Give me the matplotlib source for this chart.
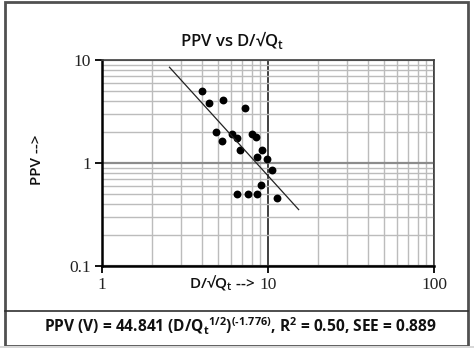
import matplotlib
matplotlib.use("Agg")
import matplotlib.pyplot as plt
from matplotlib.lines import Line2D
from matplotlib.patches import Rectangle
from matplotlib.ticker import LogLocator, NullFormatter, FixedLocator

plt.rcParams["mathtext.fontset"] = "custom"
plt.rcParams["mathtext.rm"] = "Open Sans"
plt.rcParams["mathtext.bf"] = "Open Sans:bold"

scaled_dist = [4.03, 4.44, 5.36, 7.30, 4.87, 5.29, 6.10, 6.48, 7.98, 8.44,
               6.81, 9.20, 8.62, 9.90, 10.6, 9.08, 6.48, 7.61, 8.62, 11.27]
ppv = [4.97, 3.86, 4.09, 3.42, 2.00, 1.65, 1.90, 1.76, 1.93, 1.78,
       1.33, 1.33, 1.14, 1.09, 0.85, 0.617, 0.50, 0.50, 0.50, 0.457]

# fitted trend PPV = K * x^B
fit_k = 44.841
fit_b = -1.776
fit_range = [2.55, 15.3]

W, H = 474, 348
fig = plt.figure(figsize=(W / 100, H / 100), dpi=100)
ax = fig.add_axes([102 / W, (H - 266) / H, (434 - 102) / W, (266 - 60) / H])

ax.set_xscale("log")
ax.set_yscale("log")
ax.set_xlim(1, 100)
ax.set_ylim(0.1, 10)

# grid: light minor lines, darker decade lines
ax.xaxis.set_minor_locator(LogLocator(base=10, subs=range(2, 10)))
ax.yaxis.set_minor_locator(LogLocator(base=10, subs=range(2, 10)))
ax.xaxis.set_minor_formatter(NullFormatter())
ax.yaxis.set_minor_formatter(NullFormatter())
ax.grid(which="minor", axis="both", color="#bcbcbc", lw=1.0)
ax.grid(which="major", axis="y", color="#8c8c8c", lw=1.6)
ax.grid(which="major", axis="x", color="#303030", lw=1.3)
ax.tick_params(which="minor", length=0)
ax.set_axisbelow(True)

ax.xaxis.set_major_locator(FixedLocator([1, 10, 100]))
ax.yaxis.set_major_locator(FixedLocator([0.1, 1, 10]))
ax.set_xticklabels(["1", "10", "100"])
ax.set_yticklabels(["0.1", "1", "10"])
ax.tick_params(which="major", length=5, width=1.3, color="black",
               labelsize=12.5, pad=3)
for lab in ax.get_xticklabels() + ax.get_yticklabels():
    lab.set_family("Liberation Serif")
    lab.set_color("#222222")

for side in ("left", "bottom"):
    ax.spines[side].set_linewidth(1.8)
    ax.spines[side].set_color("black")
for side in ("top", "right"):
    ax.spines[side].set_linewidth(1.2)
    ax.spines[side].set_color("#404040")

ax.scatter(scaled_dist, ppv, s=32, color="black", zorder=3, linewidths=0)

xs = [fit_range[0] * (fit_range[1] / fit_range[0]) ** (i / 50) for i in range(51)]
ax.plot(xs, [fit_k * x ** fit_b for x in xs], color="#222222", lw=0.9, zorder=3)

sans = ["Open Sans", "DejaVu Sans"]
fig.text(232 / W, 1 - 40 / H, r"PPV vs D/√Q$_\mathregular{t}$", family=sans,
         fontsize=12, fontweight="semibold", ha="center", va="center",
         color="#111111")
fig.text(37 / W, 1 - 160 / H, "PPV -->", family=sans, fontsize=11,
         fontweight="semibold", rotation=90, ha="center", va="center",
         color="#111111")
fig.text(222 / W, 1 - 283 / H, r"D/√Q$_\mathregular{t}$ -->", family=sans,
         fontsize=11, fontweight="semibold", ha="center", va="center",
         color="#111111")
fig.text(240 / W, 1 - 326 / H,
         r"PPV (V) = 44.841 (D/Q$_\mathbf{t}$$^\mathbf{1/2}$)$^\mathbf{(‐1.776)}$, "
         r"R$^\mathbf{2}$ = 0.50, SEE = 0.889",
         family=sans, fontsize=11.2, fontweight="bold", ha="center",
         va="center", color="#111111")

# outer frame and equation box
frame = "#505050"
fig.add_artist(Rectangle((5 / W, 2 / H), 463 / W, 344 / H, transform=fig.transFigure,
                         fill=False, edgecolor=frame, lw=2.0))
fig.add_artist(Line2D([5 / W, 468 / W], [1 - 310.5 / H] * 2,
                      transform=fig.transFigure, color="#303030", lw=1.2))
fig.add_artist(Rectangle((0, 0), 1, 2 / H, transform=fig.transFigure,
                         color="#d8d8d8", lw=0))

fig.savefig("out.png", dpi=100)
plt.close(fig)
